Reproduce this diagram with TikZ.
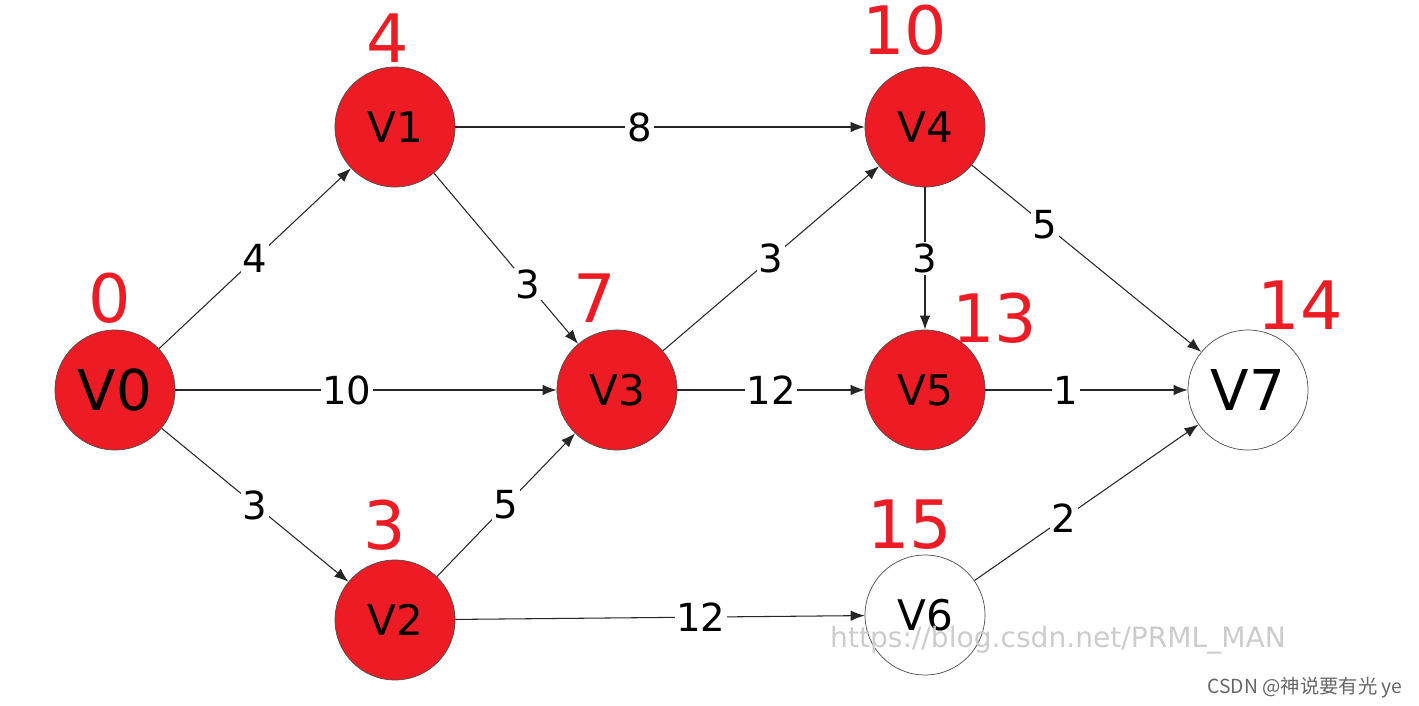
\documentclass[tikz,border=0pt]{standalone}
\usepackage{fontspec}
\setmainfont{DejaVu Sans}
\newfontfamily\cjk{Noto Sans CJK SC}
\usetikzlibrary{arrows.meta}
\definecolor{vred}{RGB}{237,28,36}
\tikzset{
  vert/.style={circle, draw=black!70, minimum size=2.4cm, inner sep=0pt, font=\fontsize{24}{24}\selectfont},
  done/.style={vert, fill=vred},
  edge/.style={-{Latex[length=8pt,width=6pt]}, draw=black!85, line width=0.6pt},
  wt/.style={fill=white, inner sep=1pt, font=\fontsize{22}{22}\selectfont},
  dist/.style={text=vred, font=\fontsize{38}{38}\selectfont}
}
\begin{document}
\begin{tikzpicture}[x=0.02cm,y=-0.02cm]
  \useasboundingbox (0,0) rectangle (1419,706);
  %% вершины
  \node[done, font=\fontsize{32}{32}\selectfont] (v0) at (115,390) {V0};
  \node[done] (v1) at (395,127) {V1};
  \node[done] (v2) at (395,620) {V2};
  \node[done] (v3) at (617,390) {V3};
  \node[done] (v4) at (925,127) {V4};
  \node[done] (v5) at (925,390) {V5};
  \node[vert] (v6) at (925,615) {V6};
  \node[vert, font=\fontsize{32}{32}\selectfont] (v7) at (1248,390) {V7};

  %% расстояния
  \node[dist] (d0) at (110,298) {0};
  \node[dist] (d1) at (388,38) {4};
  \node[dist] (d2) at (385,525) {3};
  \node[dist] (d3) at (595,298) {7};
  \node[dist] (d4) at (905,30) {10};
  \node[dist] (d5) at (995,318) {13};
  \node[dist] (d6) at (910,525) {15};
  \node[dist] (d7) at (1300,305) {14};

  %% дуги
  \draw[edge] (v0) -- node[wt] {4} (v1);
  \draw[edge] (v0) -- node[wt, pos=.45] {10} (v3);
  \draw[edge] (v0) -- node[wt] {3} (v2);
  \draw[edge] (v1) -- node[wt, pos=.45] {8} (v4);
  \draw[edge] (v1) -- node[wt, pos=.65] {3} (v3);
  \draw[edge] (v2) -- node[wt] {5} (v3);
  \draw[edge] (v2) -- node[wt, pos=.6] {12} (v6);
  \draw[edge] (v3) -- node[wt] {3} (v4);
  \draw[edge] (v3) -- node[wt] {12} (v5);
  \draw[edge] (v4) -- node[wt] {3} (v5);
  \draw[edge] (v4) -- node[wt, pos=.32] {5} (v7);
  \draw[edge] (v5) -- node[wt, pos=.4] {1} (v7);
  \draw[edge] (v6) -- node[wt, pos=.4] {2} (v7);

  %% подписи
  \node[text=black!20, font=\fontsize{16}{16}\selectfont] (url) at (1058,640) {https://blog.csdn.net/PRML\_MAN};
  \node[text=black!60, font=\fontsize{11}{11}\cjk] (src) at (1305,688) {CSDN @神说要有光 ye};
\end{tikzpicture}
\end{document}
